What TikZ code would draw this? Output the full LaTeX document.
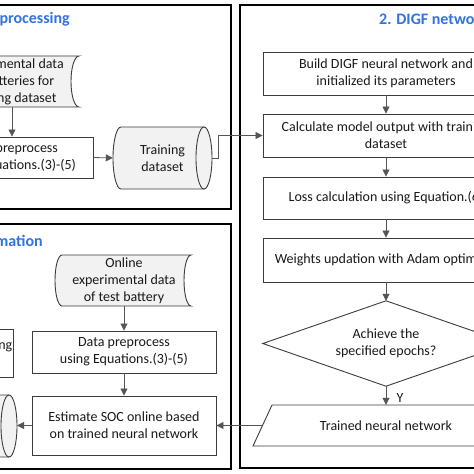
\documentclass[tikz,border=0pt]{standalone}
\usepackage{fontspec}
\setmainfont{Carlito}
\usetikzlibrary{arrows.meta}
\definecolor{titleblue}{RGB}{50,115,220}
\definecolor{boxline}{RGB}{60,60,60}
\definecolor{conn}{RGB}{85,85,85}
\definecolor{shapefill}{RGB}{242,242,242}
\definecolor{textc}{RGB}{25,25,25}
\begin{document}
\begin{tikzpicture}[x=1pt,y=-1pt,
  font=\fontsize{14}{17}\selectfont,
  box/.style={draw=boxline, line width=0.9pt, fill=white, align=center, inner sep=0pt, text=textc},
  txt/.style={align=center, inner sep=0pt, text=textc},
  outline/.style={draw=boxline, line width=0.9pt},
  arr/.style={draw=conn, line width=0.8pt, -{Triangle[length=7pt,width=7pt]}},
  panel/.style={draw=black, line width=1.8pt},
  title/.style={font=\fontsize{16}{19}\selectfont\bfseries, text=titleblue, inner sep=0pt},
  shp/.style={draw=boxline, line width=0.9pt, fill=shapefill}]

\useasboundingbox (0,0) rectangle (474,474);
\fill[white] (0,0) rectangle (474,474);
\clip (0,0) rectangle (474,474);

% panels
\draw[panel] (-20,5) rectangle (231,209);
\draw[panel] (-20,224) rectangle (231,469);
\draw[panel] (240,5) rectangle (500,468);

\node[title, anchor=base east] (t1) at (70,23) {1. Data preprocessing};
\node[title, anchor=base west] (t2) at (379,24) {2. DIGF network training};
\node[title, anchor=base east] (t3) at (43,246) {3. SOC estimation};

% ---- panel 1 ----
\path[shp] (-55,56) -- (79,56) arc[start angle=90,end angle=270,x radius=8pt,y radius=25.5pt]
  -- (-55,107) arc[start angle=270,end angle=90,x radius=8pt,y radius=25.5pt] -- cycle;
\node[txt, minimum width=126pt, minimum height=51pt] (exp) at (12,81.5)
  {Experimental data\\of batteries for\\training dataset};
\node[box, minimum width=162pt, minimum height=41pt] (pre1) at (12,157.5)
  {Data preprocess\\using Equations.(3)-(5)};

\path[shp] (121,127) -- (204,127) arc[start angle=90,end angle=-90,x radius=8pt,y radius=31pt]
  -- (121,189) arc[start angle=270,end angle=90,x radius=8pt,y radius=31pt] -- cycle;
\draw[outline] (204,127) arc[start angle=90,end angle=270,x radius=8pt,y radius=31pt];
\node[txt, minimum width=99pt, minimum height=62pt] (train) at (162.5,158) {Training\\dataset};

\draw[arr] (exp.south) -- (pre1.north);
\draw[arr] (pre1.east) -- (train.west);

% ---- panel 2 ----
\node[box, minimum width=246pt, minimum height=43pt] (build) at (386,73.5)
  {Build DIGF neural network and\\initialized its parameters};
\node[box, minimum width=246pt, minimum height=43pt] (calc) at (386,135.5)
  {Calculate model output with training\\dataset};
\node[box, minimum width=246pt, minimum height=42pt] (loss) at (386,198)
  {Loss calculation using Equation.(6)};
\node[box, minimum width=246pt, minimum height=44pt] (adam) at (386,260)
  {Weights updation with Adam optimizer};
\node[txt, minimum width=246pt, minimum height=85pt] (epochs) at (386,343.5)
  {Achieve the\\specified epochs?};
\draw[outline] (epochs.north) -- (epochs.east) -- (epochs.south) -- (epochs.west) -- cycle;
\draw[outline] (272,405) -- (528,405) -- (509,446) -- (253,446) -- cycle;
\node[txt, minimum width=247pt, minimum height=41pt] (trained) at (386,425.5)
  {Trained neural network};
\node[txt] (ylab) at (400,398) {Y};

\draw[arr] (build) -- (calc);
\draw[arr] (calc) -- (loss);
\draw[arr] (loss) -- (adam);
\draw[arr] (adam) -- (epochs.north);
\draw[arr] (epochs.south) -- (trained.north);
\draw[arr] (train.east) -- ++(6,0) |- (calc.west);

% ---- panel 3 ----
\path[shp] (62,255) -- (191,255) arc[start angle=90,end angle=270,x radius=7pt,y radius=25.5pt]
  -- (62,306) arc[start angle=270,end angle=90,x radius=7pt,y radius=25.5pt] -- cycle;
\node[txt, minimum width=124pt, minimum height=51pt] (online) at (124,280.5)
  {Online\\experimental data\\of test battery};
\node[box, minimum width=184pt, minimum height=42pt] (pre3) at (124,352)
  {Data preprocess\\using Equations.(3)-(5)};
\node[box, minimum width=184pt, minimum height=59pt] (est) at (124,425.5)
  {Estimate SOC online based\\on trained neural network};

\node[box, minimum width=93pt, minimum height=48pt] (ngbox) at (-33.5,353) {};
\node[txt, anchor=base east] (ngtxt) at (12.5,349) {ng};

\path[shp] (-80,395) -- (9,395) arc[start angle=90,end angle=-90,x radius=8pt,y radius=31pt]
  -- (-80,457) -- cycle;
\draw[outline] (9,395) arc[start angle=90,end angle=270,x radius=8pt,y radius=31pt];
\coordinate (socend) at (17,425.5);

\draw[arr] (online.south) -- (pre3.north);
\draw[arr] (pre3) -- (est);
\draw[arr] (est.west) -- (socend);
\draw[arr] (trained.west) -- (est.east);
\end{tikzpicture}
\end{document}
